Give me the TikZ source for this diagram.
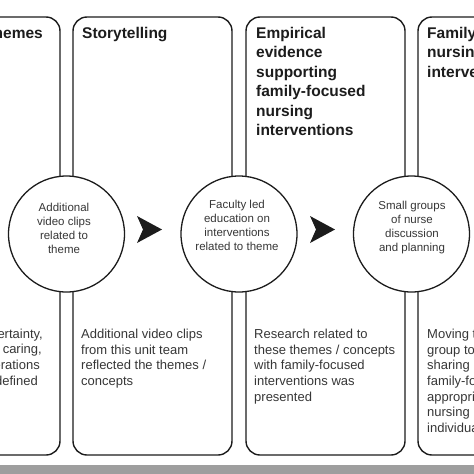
\documentclass[tikz,border=0pt]{standalone}
\usepackage{fontspec}
\setmainfont{Liberation Sans}
\definecolor{ink}{RGB}{28,28,28}
\definecolor{txt}{RGB}{55,55,55}
\definecolor{band}{RGB}{158,158,158}
\begin{document}
\begin{tikzpicture}[x=1pt,y=-1pt,
  panel/.style={draw=ink, line width=1.4pt, rounded corners=14pt, minimum width=159pt, minimum height=438pt, inner sep=0pt},
  stage/.style={circle, draw=ink, line width=1.3pt, fill=white, minimum size=116pt, inner sep=0pt},
  ttl/.style={font=\fontsize{15.5}{19.5}\selectfont\bfseries, text=ink, align=left, inner sep=0pt, anchor=north west},
  body/.style={font=\fontsize{13}{15.7}\selectfont, text=txt, align=left, inner sep=0pt, anchor=north west},
  bodyr/.style={font=\fontsize{13}{15.7}\selectfont, text=txt, inner sep=0pt, anchor=base east},
  ctext/.style={font=\fontsize{11.5}{14}\selectfont, text=txt, align=center, inner sep=0pt},
  tipfill/.style={fill=ink}]
\useasboundingbox (0,0) rectangle (474,474);
\clip (0,0) rectangle (474,474);
\fill[white] (0,0) rectangle (474,474);
% panels
\node[panel] (p1) at (-19.5,236) {};
\node[panel] (p2) at (152.5,236) {};
\node[panel] (p3) at (325.5,236) {};
\node[panel] (p4) at (497.5,236) {};
% circles
\node[stage] (c1) at (66.5,234) {};
\node[stage] (c2) at (239,234) {};
\node[stage] (c3) at (411.5,234) {};
\node[ctext] (t1) at (64,228.5) {Additional\\video clips\\related to\\theme};
\node[ctext] (t2) at (237,225) {Faculty led\\education on\\interventions\\related to theme};
\node[ctext] (t3) at (412,228) {Small groups\\of nurse\\discussion\\and planning};
% arrows
\coordinate (a1) at (149.5,229.5);
\coordinate (a2) at (322.5,229.5);
\fill[tipfill] (a1) ++(-12.5,-13.5) -- ++(25,13.5) -- ++(-25,13.5) -- ++(6,-13.5) -- cycle;
\fill[tipfill] (a2) ++(-12.5,-13.5) -- ++(25,13.5) -- ++(-25,13.5) -- ++(6,-13.5) -- cycle;
% titles
\node[ttl, anchor=base east] (h1) at (43,38) {Themes};
\node[ttl] (h2) at (82,27) {Storytelling};
\node[ttl] (h3) at (256,27) {Empirical\\evidence\\supporting\\family-focused\\nursing\\interventions};
\node[ttl] (h4) at (427,27) {Family-focused\\nursing\\interventions};
% body texts
\node[bodyr] (b1a) at (43,338) {Uncertainty,};
\node[bodyr] (b1b) at (42,353.7) {suffering, caring,};
\node[bodyr] (b1c) at (40,369.4) {considerations};
\node[bodyr] (b1d) at (38,385.1) {defined};
\node[body] (b2) at (81,328.7) {Additional video clips\\from this unit team\\reflected the themes /\\concepts};
\node[body] (b3) at (254,328.7) {Research related to\\these themes / concepts\\with family-focused\\interventions was\\presented};
\node[body] (b4) at (427,328.7) {Moving the\\group together\\sharing\\family-focused\\appropriate\\nursing\\individualized};
% bottom band
\fill[band] (0,465) rectangle (474,474);
\end{tikzpicture}
\end{document}
